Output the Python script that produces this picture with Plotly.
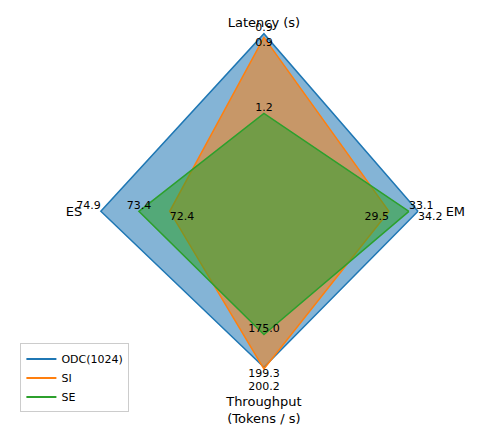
import plotly.graph_objects as go

# axes in drawing order (counterclockwise from the right)
axes = ["EM", "Latency (s)", "ES", "Throughput<br>(Tokens / s)"]
methods = ["ODC(1024)", "SI", "SE"]
colors = ["#1f77b4", "#ff7f0e", "#2ca02c"]

# raw values shown as labels
raw = {
    "ODC(1024)": [34.2, 0.9, 74.9, 200.2],
    "SI": [29.5, 0.9, 72.4, 199.3],
    "SE": [33.1, 1.2, 73.4, 175.0],
}
# normalized radii
scores = {
    "ODC(1024)": [0.85, 0.98, 0.90, 0.86],
    "SI": [0.69, 0.96, 0.52, 0.87],
    "SE": [0.80, 0.54, 0.69, 0.68],
}
text_pos = {
    "ODC(1024)": ["bottom right", "top center", "top left", "bottom center"],
    "SI": ["bottom left", "bottom center", "bottom right", "bottom center"],
    "SE": ["top right", "top center", "top center", "top center"],
}
fills = ["rgba(31,119,180,0.55)", "rgba(255,127,14,0.55)", "rgba(44,160,44,0.55)"]

fig = go.Figure()
for m, c, fc in zip(methods, colors, fills):
    r = scores[m] + scores[m][:1]
    th = axes + axes[:1]
    fig.add_trace(go.Scatterpolar(r=r, theta=th, mode="lines", fill="toself",
                                  fillcolor=fc, line=dict(color=c, width=1.5),
                                  name=m, showlegend=False))
for m in methods:
    labels = [f"{v:.1f}" for v in raw[m]]
    if m == "ODC(1024)":
        labels[3] = "<br>" + labels[3]  # sit below the SI label, as in the reference
    fig.add_trace(go.Scatterpolar(r=scores[m], theta=axes, mode="text",
                                  text=labels, textposition=text_pos[m],
                                  textfont=dict(size=11, color="black"), showlegend=False,
                                  hoverinfo="skip"))
# legend entries drawn as plain lines
for m, c in zip(methods, colors):
    fig.add_trace(go.Scatterpolar(r=[None], theta=[axes[0]], mode="lines",
                                  line=dict(color=c, width=2), name=m))

fig.update_layout(
    width=496, height=442,
    margin=dict(l=0, r=0, t=0, b=0),
    paper_bgcolor="white",
    font=dict(family="DejaVu Sans", color="black"),
    polar=dict(
        domain=dict(x=[0.143, 0.889], y=[0.13, 0.95]),
        bgcolor="white",
        radialaxis=dict(range=[0, 1], visible=False, showgrid=False),
        angularaxis=dict(type="category", rotation=0, direction="counterclockwise",
                         showgrid=False, showline=False, ticks="",
                         tickfont=dict(size=13, color="black")),
    ),
    legend=dict(x=0.025, y=0.085, xanchor="left", yanchor="bottom",
                bordercolor="#cccccc", borderwidth=1, bgcolor="white",
                font=dict(size=11)),
)

fig.write_html("out.html")
